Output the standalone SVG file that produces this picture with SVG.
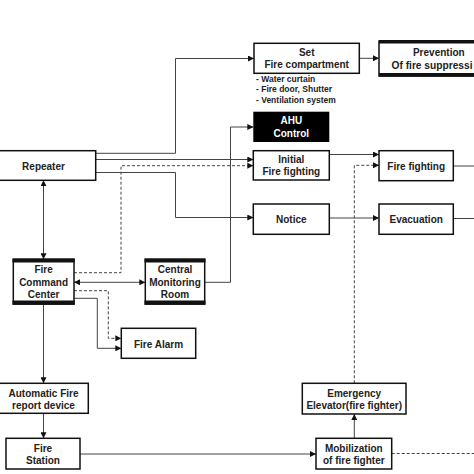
<svg xmlns="http://www.w3.org/2000/svg" width="474" height="474" viewBox="0 0 474 474">
<style>
.box{fill:#fff;stroke:#111;stroke-width:1.5}
.bar{fill:#111}
.t{font-family:"Liberation Sans",Arial,sans-serif;font-weight:bold;font-size:10px;fill:#222;text-anchor:middle}
.n{font-family:"Liberation Sans",Arial,sans-serif;font-weight:bold;font-size:8.5px;fill:#222}
.w{fill:#fff}
.c{fill:none;stroke:#444;stroke-width:1}
.d{fill:none;stroke:#444;stroke-width:1;stroke-dasharray:3,2}
</style>
<defs>
<marker id="ah" markerUnits="userSpaceOnUse" markerWidth="6" markerHeight="6" refX="6" refY="3" orient="auto-start-reverse">
<path d="M0,0 L6,3 L0,6 z" fill="#111"/>
</marker>
</defs>
<rect width="474" height="474" fill="#fff"/>
<g id="connectors">
<path class="c" d="M95.7,153.3 H175.5 V58.5 H254" marker-end="url(#ah)"/>
<path class="c" d="M95.7,159.5 H253.3" marker-end="url(#ah)"/>
<path class="c" d="M95.7,172.5 H175.5 V217.5 H253.3" marker-end="url(#ah)"/>
<path class="d" d="M74,272.7 H121 V165.7 H253.3" marker-end="url(#ah)"/>
<path class="c" d="M43.5,180.3 V259.3" marker-start="url(#ah)" marker-end="url(#ah)"/>
<path class="c" d="M74,282.3 H145.3" marker-start="url(#ah)" marker-end="url(#ah)"/>
<path class="c" d="M204.7,282.3 H230.5 V127 H253.3" marker-end="url(#ah)"/>
<path class="d" d="M74,290.7 H108.3 V338.3 H121.3" marker-end="url(#ah)"/>
<path class="c" d="M74,298.3 H97.3 V348.3 H121.3" marker-end="url(#ah)"/>
<path class="c" d="M43.5,304 V383.3" marker-end="url(#ah)"/>
<path class="c" d="M43.5,413.3 V438.3" marker-end="url(#ah)"/>
<path class="c" d="M80,454 H316" marker-end="url(#ah)"/>
<path class="c" d="M354.3,438.3 V414" marker-end="url(#ah)"/>
<path class="d" d="M354.3,383.3 V165.3 H379" marker-end="url(#ah)"/>
<path class="d" d="M391.7,453.5 H474"/>
<path class="c" d="M359.3,58.3 H379" marker-end="url(#ah)"/>
<path class="c" d="M329.3,154.5 H379" marker-end="url(#ah)"/>
<path class="c" d="M329.3,218 H379" marker-end="url(#ah)"/>
<path class="c" d="M453.3,166 H474"/>
<path class="c" d="M453.3,218.5 H474"/>
</g>
<g id="repeater">
<rect class="box" x="-2" y="150.7" width="97.7" height="29.6"/>
<text class="t" x="43.5" y="169.5">Repeater</text>
</g>
<g id="set-fire-compartment">
<rect class="box" x="254" y="43.3" width="105.3" height="30"/>
<text class="t" x="306.7" y="55.5">Set</text>
<text class="t" x="306.7" y="68">Fire compartment</text>
<text class="n" x="256" y="82.3">- Water curtain</text>
<text class="n" x="256" y="92.3">- Fire door, Shutter</text>
<text class="n" x="256" y="103">- Ventilation system</text>
</g>
<g id="prevention">
<rect class="box" x="379" y="41" width="120" height="35" stroke-width="2.5"/>
<rect class="bar" x="379" y="40" width="120" height="3.5"/>
<rect class="bar" x="379" y="73" width="120" height="3.7"/>
<text class="t" x="438.8" y="56">Prevention</text>
<text class="t" x="391.5" y="68.5" style="text-anchor:start" textLength="81" lengthAdjust="spacingAndGlyphs">Of fire suppressi</text>
</g>
<g id="ahu-control">
<rect x="253.3" y="111.7" width="76" height="30.3" fill="#000"/>
<text class="t w" x="291.3" y="124">AHU</text>
<text class="t w" x="291.3" y="136.5">Control</text>
</g>
<g id="initial-fire-fighting">
<rect class="box" x="253.3" y="150.7" width="76" height="29.3"/>
<text class="t" x="291.3" y="162.5">Initial</text>
<text class="t" x="291.3" y="175">Fire fighting</text>
</g>
<g id="fire-fighting">
<rect class="box" x="379" y="150.7" width="74.3" height="30"/>
<text class="t" x="416.2" y="169.5">Fire fighting</text>
</g>
<g id="notice">
<rect class="box" x="253.3" y="204" width="76" height="30.3"/>
<text class="t" x="291.3" y="222.5">Notice</text>
</g>
<g id="evacuation">
<rect class="box" x="379" y="204" width="74.3" height="30.3"/>
<text class="t" x="416.2" y="222.5">Evacuation</text>
</g>
<g id="fire-command-center">
<rect class="box" x="13.3" y="259.3" width="60.7" height="44.7"/>
<rect class="bar" x="12.5" y="258.5" width="62.3" height="4"/>
<rect class="bar" x="12.5" y="300.5" width="62.3" height="4.3"/>
<text class="t" x="43.6" y="272.5">Fire</text>
<text class="t" x="43.6" y="285.5">Command</text>
<text class="t" x="43.6" y="297.5">Center</text>
</g>
<g id="central-monitoring-room">
<rect class="box" x="145.3" y="259.3" width="59.4" height="44.7"/>
<rect class="bar" x="144.5" y="258.5" width="61" height="4"/>
<rect class="bar" x="144.5" y="300.5" width="61" height="4.3"/>
<text class="t" x="175" y="272.5">Central</text>
<text class="t" x="175" y="285.5">Monitoring</text>
<text class="t" x="175" y="297.5">Room</text>
</g>
<g id="fire-alarm">
<rect class="box" x="121.3" y="328.3" width="74.4" height="30"/>
<text class="t" x="158.5" y="347.5">Fire Alarm</text>
</g>
<g id="automatic-fire-report-device">
<rect class="box" x="-2" y="383.3" width="90.3" height="30"/>
<text class="t" x="43.5" y="396.5">Automatic Fire</text>
<text class="t" x="43.5" y="408.5">report device</text>
</g>
<g id="fire-station">
<rect class="box" x="6" y="438.3" width="74" height="30.7"/>
<text class="t" x="43" y="451.5">Fire</text>
<text class="t" x="43" y="463.5">Station</text>
</g>
<g id="emergency-elevator">
<rect class="box" x="302.3" y="383.3" width="103.7" height="30.7"/>
<text class="t" x="354.2" y="396.5">Emergency</text>
<text class="t" x="354.2" y="408.5">Elevator(fire fighter)</text>
</g>
<g id="mobilization">
<rect class="box" x="316" y="438.3" width="75.7" height="30.7"/>
<text class="t" x="353.8" y="451.5">Mobilization</text>
<text class="t" x="353.8" y="463.5">of fire fighter</text>
</g>
</svg>
